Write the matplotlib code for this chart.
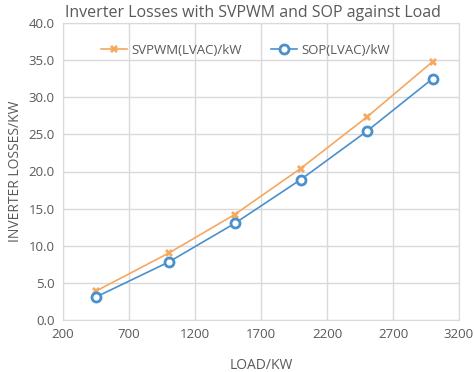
import numpy as np
import matplotlib.pyplot as plt

plt.rcParams['font.family'] = ['Open Sans', 'DejaVu Sans']

# 数据
load = [450, 1000, 1500, 2000, 2500, 3000]
svpwm = [3.9, 9.0, 14.2, 20.4, 27.3, 34.8]
sop = [3.1, 7.8, 13.0, 18.9, 25.4, 32.5]

xticks = [200, 700, 1200, 1700, 2200, 2700, 3200]
yticks = np.arange(0, 45, 5)

text_c = '#595959'
grid_c = '#d9d9d9'

fig = plt.figure(figsize=(4.74, 3.72), dpi=100)
ax = fig.add_axes([63 / 474, 52 / 372, 396 / 474, 297 / 372])

ax.plot(load, svpwm, color='#f4a860', lw=1.2, marker='X', markersize=6,
        markeredgewidth=0, label='SVPWM(LVAC)/kW')
ax.plot(load, sop, color='#4a90cc', lw=1.2, marker='o', markersize=6.5,
        markerfacecolor='white', markeredgewidth=2, label='SOP(LVAC)/kW')

ax.set_xlim(200, 3200)
ax.set_ylim(0, 40)
ax.set_xticks(xticks)
ax.set_yticks(yticks)
ax.set_yticklabels([f'{v:.1f}' for v in yticks])
ax.grid(True, color=grid_c, lw=1)
ax.set_axisbelow(True)
for s in ax.spines.values():
    s.set_color(grid_c)
ax.tick_params(length=0, colors=text_c, labelsize=9.5, pad=6)

ax.set_title('Inverter Losses with SVPWM and SOP against Load',
             fontsize=11.5, color=text_c, pad=4, x=0.48)
ax.set_xlabel('LOAD/KW', fontsize=10, color=text_c, labelpad=12)
ax.set_ylabel('INVERTER LOSSES/KW', fontsize=10, color=text_c, labelpad=4)

leg = ax.legend(loc='upper center', ncol=2, frameon=False, fontsize=9.5,
                bbox_to_anchor=(0.46, 0.97), handlelength=2.0,
                columnspacing=2.2, handletextpad=0.3)
for t in leg.get_texts():
    t.set_color(text_c)

fig.savefig('out.png', dpi=100)
